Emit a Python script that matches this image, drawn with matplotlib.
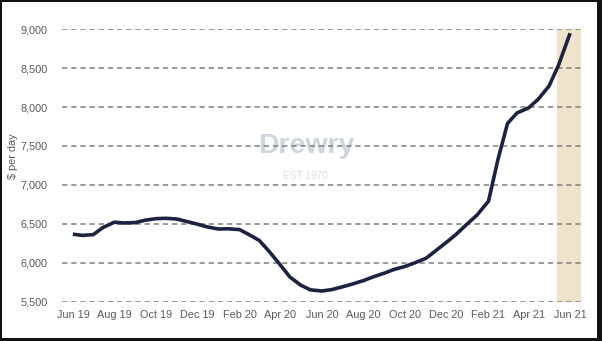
import matplotlib
matplotlib.use("Agg")
import matplotlib.pyplot as plt
import matplotlib.dates as mdates
from matplotlib.patches import Rectangle
import pandas as pd

# semi-monthly readings, Jun 2019 - Jun 2021 ($ per day)
dates = pd.date_range("2019-06-01", "2021-06-01", freq="SMS")
rates = [6365, 6350, 6360, 6450, 6520, 6510, 6515, 6545, 6565, 6570,
         6560, 6530, 6495, 6460, 6432, 6435, 6425, 6360, 6285, 6150,
         5970, 5815, 5710, 5650, 5635, 5652, 5688, 5722, 5768, 5815,
         5865, 5912, 5950, 5995, 6055, 6150, 6260, 6360, 6500, 6610,
         6790, 7330, 7790, 7925, 7990, 8100, 8270, 8540, 8950]
y_ticks = [5500, 6000, 6500, 7000, 7500, 8000, 8500, 9000]
tick_dates = pd.date_range("2019-06-01", "2021-06-01", freq="2MS")
band_start, band_end = pd.Timestamp("2021-05-12"), pd.Timestamp("2021-06-18")

plt.rcParams['font.family'] = ['Liberation Sans', 'DejaVu Sans']
W, H = 602, 341
fig = plt.figure(figsize=(W / 100, H / 100), dpi=100)

# frame round the picture
fig.patches.append(Rectangle((0, 0), 1, 1, transform=fig.transFigure,
                             facecolor="#111111", edgecolor="none", zorder=-10))
fig.patches.append(Rectangle((2 / W, 3 / H), 595 / W, 336 / H, transform=fig.transFigure,
                             facecolor="white", edgecolor="none", zorder=-9))

ax = fig.add_axes([62 / W, 1 - 301.5 / H, 519 / W, 272.2 / H])
ax.patch.set_alpha(0)

ax.axvspan(band_start, band_end, color="#efe3cc", lw=0, zorder=1)
for v in y_ticks:
    ax.axhline(v, color="#7f7f7f", lw=1.1, ls=(0, (3.5, 2.5)), zorder=2)
ax.plot(dates, rates, color="#1c2340", lw=2.6, solid_capstyle="butt",
        solid_joinstyle="round", zorder=3)

ax.set_ylim(5500, 9000)
ax.set_xlim(pd.Timestamp("2019-05-16"), pd.Timestamp("2021-06-17"))
ax.set_yticks(y_ticks)
ax.set_yticklabels([f"{v:,}" for v in y_ticks])
ax.set_xticks(tick_dates)
ax.xaxis.set_major_formatter(mdates.DateFormatter("%b %y"))
ax.tick_params(length=0, labelsize=7.8, colors="#595959", pad=10.5)
ax.tick_params(axis="x", pad=6)
for s in ax.spines.values():
    s.set_visible(False)

fig.text(13.5 / W, 1 - 156 / H, "$ per day", rotation=90, ha="center", va="center",
         fontsize=7.8, color="#595959")

# watermark
ax.text(0.47, 0.57, "Drewry", transform=ax.transAxes, ha="center", va="center",
        fontsize=20.5, fontweight="bold", color="#ced5df", zorder=0)
ax.text(0.47, 0.462, "EST 1970", transform=ax.transAxes, ha="center", va="center",
        fontsize=7.3, color="#dcdcdc", zorder=0)

fig.savefig("out.png", dpi=100)
